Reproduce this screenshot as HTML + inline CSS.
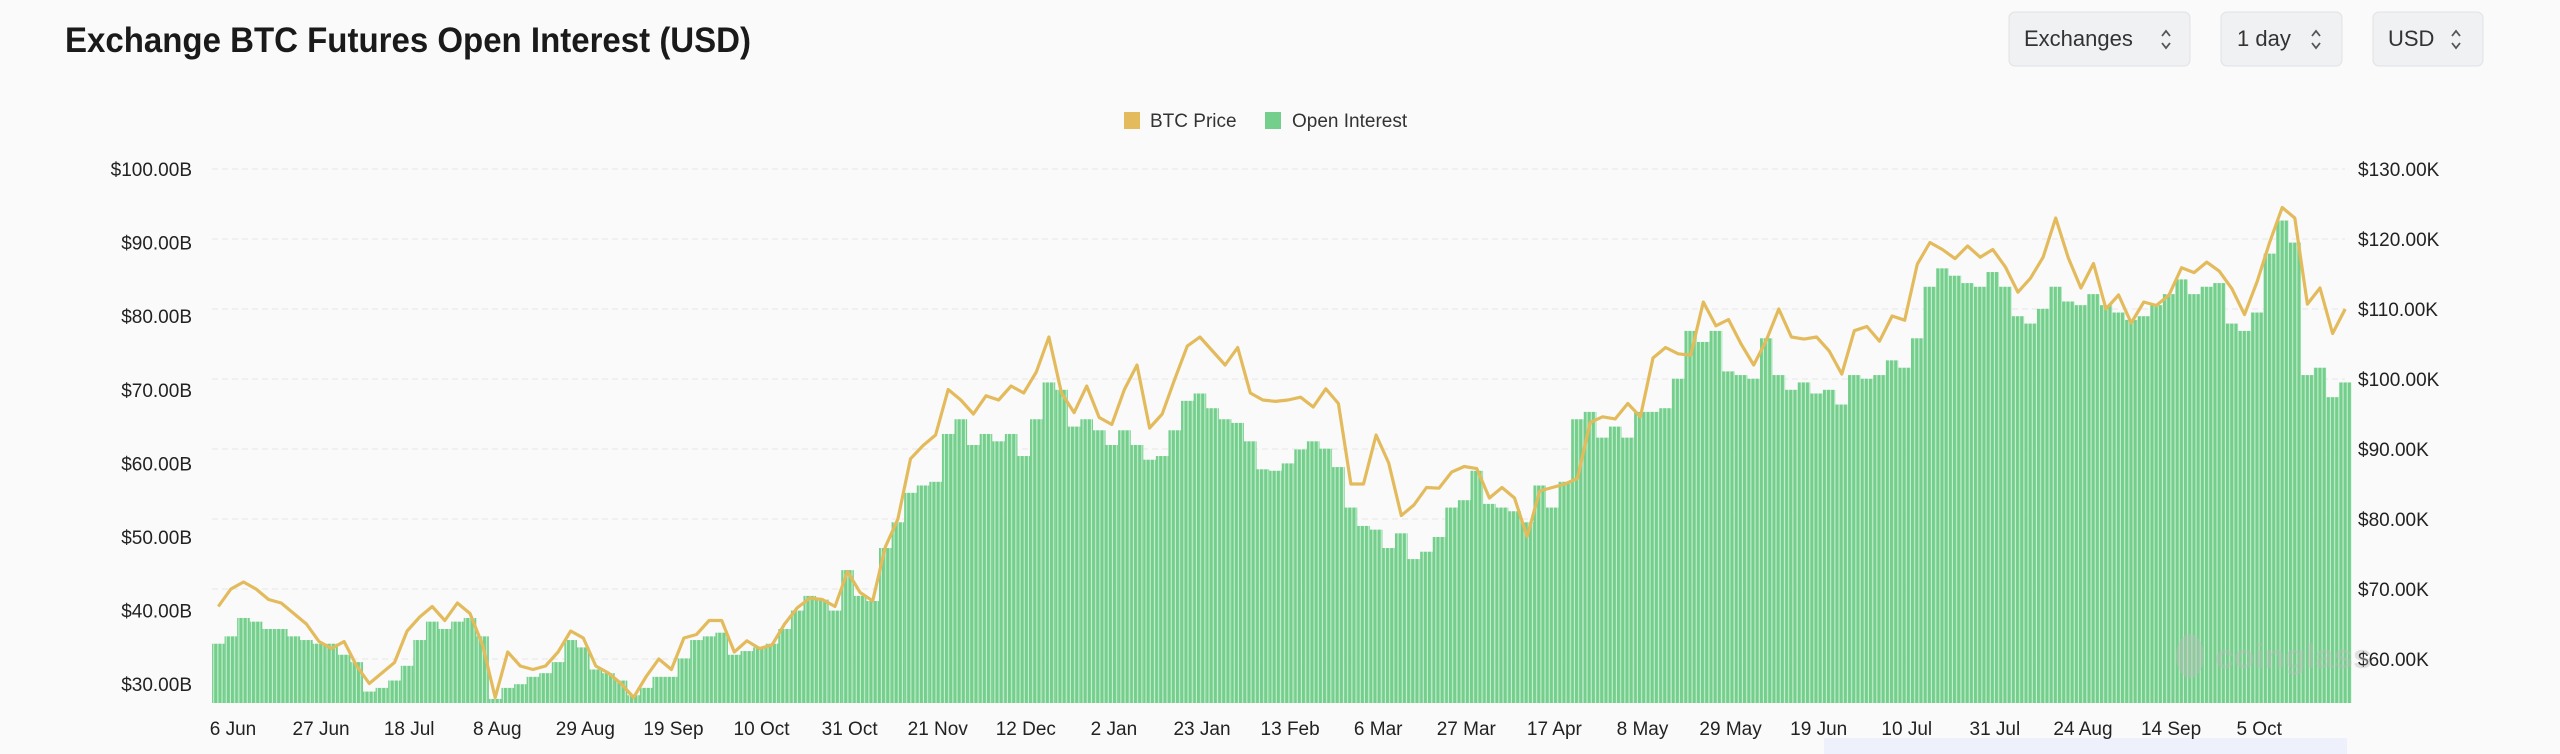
<!DOCTYPE html>
<html><head><meta charset="utf-8"><style>
html,body{margin:0;padding:0;background:#fafafa;}
svg{display:block;font-family:"Liberation Sans",Arial,sans-serif;}
</style></head><body>
<svg id="chart" width="2560" height="754" viewBox="0 0 2560 754" xmlns="http://www.w3.org/2000/svg">
<defs>
<pattern id="stripes" patternUnits="userSpaceOnUse" width="4.2" height="10"><rect x="0" y="0" width="3.2" height="10" fill="#74cf8c"/><rect x="3.2" y="0" width="1" height="10" fill="#c9eed3"/></pattern>
</defs>
<rect width="2560" height="754" fill="#fafafa"/>
<text x="65" y="52" font-size="35" font-weight="bold" fill="#1a1a1a" textLength="686" lengthAdjust="spacingAndGlyphs">Exchange BTC Futures Open Interest (USD)</text>
<g><rect x="2009" y="12" width="181" height="54" rx="6" fill="#f0f1f3" stroke="#e0e1e4"/><text x="2024" y="46" font-size="22" fill="#333">Exchanges</text><path d="M2162 36 l4 -5 l4 5 M2162 43 l4 5 l4 -5" fill="none" stroke="#555" stroke-width="1.8"/></g>
<g><rect x="2221" y="12" width="121" height="54" rx="6" fill="#f0f1f3" stroke="#e0e1e4"/><text x="2237" y="46" font-size="22" fill="#333">1 day</text><path d="M2312 36 l4 -5 l4 5 M2312 43 l4 5 l4 -5" fill="none" stroke="#555" stroke-width="1.8"/></g>
<g><rect x="2373" y="12" width="110" height="54" rx="6" fill="#f0f1f3" stroke="#e0e1e4"/><text x="2388" y="46" font-size="22" fill="#333">USD</text><path d="M2452 36 l4 -5 l4 5 M2452 43 l4 5 l4 -5" fill="none" stroke="#555" stroke-width="1.8"/></g>
<g><rect x="1124" y="112" width="16" height="17" fill="#e3bb5c"/><text x="1150" y="127" font-size="19" fill="#333">BTC Price</text></g>
<g><rect x="1265" y="112" width="16" height="17" fill="#74cf8c"/><text x="1292" y="127" font-size="19" fill="#333">Open Interest</text></g>
<rect x="1824" y="738" width="523" height="16" fill="#eef0fb"/>
<g id="grid"></g><g id="bars"></g><g id="line"></g><g id="axes"></g>
<text x="2215" y="668" font-size="34" font-weight="bold" fill="#bdbdbd" opacity="0.4">coinglass</text>
<ellipse cx="2190" cy="656" rx="14" ry="22" fill="#bdbdbd" opacity="0.4"/>
</svg>
<script>
const dayStep = 3;
const oiValues = [35.5,36.5,39,38.5,37.5,37.5,36.5,36,35.5,35.5,34,33,29,29.5,30.5,32.5,36,38.5,37.5,38.5,39,36.5,28,29.5,30,31,31.5,33,36,35,32,31.5,30.5,28.5,29.5,31,31,33.5,36,36.5,37,34,34.5,35,35.5,37.5,40,42,41.5,40,45.5,42,41.3,48.5,52,56,57,57.5,64,66,62.5,64,63,64,61,66,71,70,65,66,64.5,62.5,64.5,62.5,60.5,61,64.5,68.5,69.5,67.5,66,65.5,63,59.2,59,60,61.9,63,62,59.5,54,51.5,51,48.5,50.5,47,48,50,54,55,59,54.5,54,53.5,52,57,54,57.5,66,67,63.5,65,63.5,67,67,67.5,71.5,78,76.5,78,72.5,72,71.5,77,72,70,71,69.5,70,68,72,71.5,72,74,73,77,84,86.5,85.5,84.5,84,86,84,80,79,81,84,82,81.5,83,81.5,80.5,79.5,80,81.5,83,85,83,84,84.5,79,78,80.5,88.5,93,90,72,73,69,71];
const priceValues = [67.5,70,71,70,68.5,68,66.5,65,62.5,61.5,62.5,59,56.5,58,59.5,64,66,67.5,65.5,68,66.5,62,54.5,61,59,58.5,59,61,64,63,59,58,56.5,54.5,57.5,60,58.5,63,63.5,65.5,65.5,61,62.6,61.5,62,65,67.3,68.7,68.5,67.5,72.5,69.5,68.3,76,80,88.6,90.5,92,98.5,97,95,97.6,97,99,98,101,106,98,95.2,99,94.5,93.5,98.5,102,93,95,100,104.7,106,104,102,104.5,98,97,96.8,97,97.4,96,98.6,96.5,85,85,92,88,80.5,82,84.5,84.4,86.7,87.5,87.2,83,84.5,83,77.5,84,84.5,85,85.8,93.8,94.6,94.3,96.5,94.6,103,104.5,103.6,103.4,111,107.6,108.5,105,102,105.5,110,106,105.7,106,104,100.7,106.9,107.5,105.4,109,108.4,116.4,119.5,118.5,117.2,119,117.4,118.5,116,112.4,114.4,117.4,123,117.3,113,116.5,110,112,108,111,110.5,112,115.9,115.2,116.7,115.4,112.9,109.2,113.9,119.5,124.5,123,110.7,113,106.5,110];
const leftTicks = [100,90,80,70,60,50,40,30];
const leftTickLabels = ["$100.00B","$90.00B","$80.00B","$70.00B","$60.00B","$50.00B","$40.00B","$30.00B"];
const rightTicks = [130,120,110,100,90,80,70,60];
const rightTickLabels = ["$130.00K","$120.00K","$110.00K","$100.00K","$90.00K","$80.00K","$70.00K","$60.00K"];
const xTickDays = [5,26,47,68,89,110,131,152,173,194,215,236,257,278,299,320,341,362,383,404,425,446,467,488];
const xTickLabels = ["6 Jun","27 Jun","18 Jul","8 Aug","29 Aug","19 Sep","10 Oct","31 Oct","21 Nov","12 Dec","2 Jan","23 Jan","13 Feb","6 Mar","27 Mar","17 Apr","8 May","29 May","19 Jun","10 Jul","31 Jul","24 Aug","14 Sep","5 Oct"];

const NS="http://www.w3.org/2000/svg";
const X0=212, PXDAY=4.195, BOTTOM=703;
const xDay = d => X0 + d*PXDAY;
const yLeft = v => 169 + (100 - v)*7.36;
const yRight = p => 169 + (130 - p)*7.0;
function mk(tag, attrs, parent){const e=document.createElementNS(NS,tag);for(const k in attrs)e.setAttribute(k,attrs[k]);parent.appendChild(e);return e;}
const grid=document.getElementById('grid'), bars=document.getElementById('bars'), line=document.getElementById('line'), axes=document.getElementById('axes');
rightTicks.forEach((t,i)=>{
  const g=mk('line',{x1:X0,x2:2345,y1:yRight(t),y2:yRight(t),stroke:'#ececec','stroke-width':1.5,'stroke-dasharray':'6 4'},grid);
  
  
  const r=mk('text',{x:2358,y:yRight(t)+7,'font-size':19,fill:'#222'},axes);
  r.textContent=rightTickLabels[i];
  
  
});
leftTicks.forEach((t,i)=>{
  const l=mk('text',{x:192,y:yLeft(t)+7,'font-size':19,fill:'#222','text-anchor':'end'},axes);
  l.textContent=leftTickLabels[i];
  
  
});
xTickDays.forEach((d,i)=>{
  const t=mk('text',{x:xDay(d),y:735,'font-size':19,fill:'#222','text-anchor':'middle'},axes);
  t.textContent=xTickLabels[i];
  
  
});
oiValues.forEach((v,i)=>{
  const x=xDay(i*dayStep), w=dayStep*PXDAY, y=yLeft(v);
  const b=mk('rect',{x:x,y:y,width:w,height:Math.max(0,BOTTOM-y),fill:'url(#stripes)'},bars);
  
  
});
const pts=priceValues.map((p,i)=>(xDay(i*dayStep+1.5)).toFixed(1)+','+yRight(p).toFixed(1)).join(' ');
const pl=mk('polyline',{points:pts,fill:'none',stroke:'#e3bb5c','stroke-width':3.2,'stroke-linejoin':'round'},line);


</script>
</body></html>
